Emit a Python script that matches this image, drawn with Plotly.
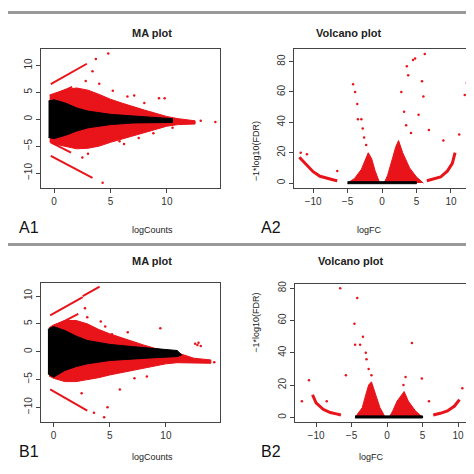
import plotly.graph_objects as go

# ---------- A1 MA plot ----------
a1_red_env_x = [-0.4,0,1,2,3,4,5,6,7,8,9,10,11,12.5,12.5,11,10,9,8,7,6,5,4,3,2,1,0,-0.4]
a1_red_env_y = [4.5,4.8,5.5,5.8,5.4,4.6,3.7,3.0,2.3,1.7,1.1,0.5,0.1,-0.3,-0.9,-1.0,-1.3,-1.9,-2.5,-3.0,-3.6,-4.3,-5.0,-5.4,-5.5,-5.0,-4.6,-4.2]
a1_blk_x = [-0.5,0,1,2,3,5,7,9,10.5,10.5,9,7,5,3,2,1,0,-0.5]
a1_blk_y = [3.4,3.6,3.0,2.1,1.5,0.9,0.6,0.3,0.1,-0.6,-0.6,-0.7,-1.0,-1.6,-2.2,-3.0,-3.6,-3.4]
a1_line_up_x = [-0.3,2.9]; a1_line_up_y = [6.5,10.3]
a1_line_lo_x = [-0.3,3.4]; a1_line_lo_y = [-6.8,-10.9]
a1_line_mid_x = [-0.3,1.6]; a1_line_mid_y = [4.2,6.0]
a1_line_mid2_x = [-0.3,1.5]; a1_line_mid2_y = [-4.3,-6.2]
a1_pts_x = [4.8,3.7,3.4,2.8,4.0,5.2,6.5,7.1,8.0,9.3,9.8,11.5,12.4,13,14.3,4.3,5.8,6.2,7.5,3.0,2.5,8.8,10.5]
a1_pts_y = [12.2,11.2,8.9,7.1,6.6,5.3,4.2,4.4,3.0,3.9,3.9,-0.4,-0.6,-0.3,-0.5,-11.8,-4.1,-4.6,-3.5,-6.4,-7.1,-2.6,-1.6]

# ---------- A2 Volcano ----------
a2_lw_x = [-5,-4,-3,-2.4,-2.0,-1.5,-1.0,-0.5,-0.3]
a2_lw_y = [0,3,9,16,20,16,8,2,0]
a2_rw_x = [0.3,0.8,1.5,2.0,2.4,3.0,4.0,5.0,6.0]
a2_rw_y = [0,5,16,24,28,20,10,4,0]
a2_blk_x = [-5,5,5,-5]; a2_blk_y = [-0.4,-0.4,0.9,0.9]
a2_arc_l_x = [-12,-11,-10,-9,-8,-7,-6.5]; a2_arc_l_y = [17,12,7.5,4.5,3,2,1.5]
a2_arc_r_x = [6.5,7.5,8.5,9.5,10.2,10.6]; a2_arc_r_y = [1.5,2.5,4,8,13,20]
a2_pts_x = [-11.8,-10.9,-4.2,-3.9,-3.6,-3.5,-3.0,-2.8,-2.6,-2.3,2.8,3.2,3.6,3.8,4.5,4.8,5.3,5.8,6.0,6.2,6.8,8.9,11.2,12.0,12.3,3.5,4.2,-6.5]
a2_pts_y = [20,19,65,60,52,42,42,36,30,25,60,47,77,71,81,82,45,67,57,85,35,28,32,58,66,38,33,8]

# ---------- B1 MA plot ----------
b1_red_env_x = [-0.4,0,1,2,3,4,5,6,7,8,9,10,11,12.5,14,14,12.5,11,10,9,8,7,6,5,4,3,2,1,0,-0.4]
b1_red_env_y = [4.3,4.8,5.6,5.6,5.0,4.0,3.2,2.5,1.8,1.2,0.6,0.2,-0.2,-1.2,-1.5,-2.1,-2.0,-2.0,-2.2,-2.6,-3.0,-3.3,-3.7,-4.2,-4.7,-5.0,-5.4,-5.4,-4.8,-4.4]
b1_blk_x = [-0.5,0,1,2,3,5,7,9,11,11.4,11,9,7,5,3,2,1,0,-0.5]
b1_blk_y = [4.0,4.5,3.8,2.8,2.0,1.3,0.9,0.5,0.2,-0.6,-0.9,-1.1,-1.3,-1.6,-2.2,-2.7,-3.4,-4.6,-4.0]
b1_line_up_x = [-0.3,2.6]; b1_line_up_y = [6.5,9.8]
b1_line_up2_x = [2.6,4.1]; b1_line_up2_y = [10.0,11.7]
b1_line_lo_x = [-0.3,3.0]; b1_line_lo_y = [-6.8,-10.6]
b1_line_mid_x = [0.5,2.2]; b1_line_mid_y = [5.0,6.8]
b1_pts_x = [2.8,3.0,4.2,4.6,5.2,6.6,9.5,4.5,3.6,5.9,4.8,2.5,12.6,12.9,12.8,13.1,14.3,11.2,7.2,8.3]
b1_pts_y = [7.8,6.2,5.4,4.5,3.1,3.5,4.2,-11.8,-11.0,-6.8,-10.0,-7.5,1.4,1.6,1.2,1.0,-1.9,-1.5,-4.8,-4.5]

# ---------- B2 Volcano ----------
b2_lw_x = [-4.5,-3.5,-3.0,-2.6,-2.2,-1.6,-1.0,-0.5,-0.3]
b2_lw_y = [0,6,14,20,22,14,6,2,0]
b2_rw_x = [0.3,0.8,1.4,2.0,2.4,3.0,4.0,5.0]
b2_rw_y = [0,4,10,14,16,10,4,0]
b2_blk_x = [-4.5,5,5,-4.5]; b2_blk_y = [-0.4,-0.4,0.9,0.9]
b2_arc_l_x = [-10.5,-10,-9,-8,-7,-6.5]; b2_arc_l_y = [14,9,5,3,2,1.5]
b2_arc_r_x = [6.5,7.5,8.5,9.5,10.2]; b2_arc_r_y = [1.5,2.5,4,7,11]
b2_pts_x = [-12,-11,-6.6,-4.2,-4.6,-4.5,-3.8,-3.4,-3.0,-2.9,-2.6,-2.2,-5.8,3.5,2.6,2.3,4.9,5.9,10.6,11.5,11.3,-8.5]
b2_pts_y = [10,23,80,74,58,45,45,50,40,36,30,26,26,46,25,20,24,10,18,34,28,10]

RED = "#e8141a"
BLK = "#000000"

fig = go.Figure()
panels = [("x","y"),("x2","y2"),("x3","y3"),("x4","y4")]

def poly(ax, xs, ys, col):
    fig.add_trace(go.Scatter(x=xs, y=ys, fill="toself", fillcolor=col, mode="lines",
                             line=dict(color=col, width=1), xaxis=ax[0], yaxis=ax[1],
                             hoverinfo="skip", showlegend=False))

def line(ax, xs, ys, col, w=2.5):
    fig.add_trace(go.Scatter(x=xs, y=ys, mode="lines", line=dict(color=col, width=w),
                             xaxis=ax[0], yaxis=ax[1], showlegend=False))

def pts(ax, xs, ys, col, s=2.5):
    fig.add_trace(go.Scatter(x=xs, y=ys, mode="markers", marker=dict(color=col, size=s),
                             xaxis=ax[0], yaxis=ax[1], showlegend=False))

ax = panels[0]
poly(ax, a1_red_env_x, a1_red_env_y, RED)
poly(ax, a1_blk_x, a1_blk_y, BLK)
for lx, ly in [(a1_line_up_x,a1_line_up_y),(a1_line_lo_x,a1_line_lo_y),(a1_line_mid_x,a1_line_mid_y),(a1_line_mid2_x,a1_line_mid2_y)]:
    line(ax, lx, ly, RED, 2)
pts(ax, a1_pts_x, a1_pts_y, RED)
ax = panels[1]
poly(ax, a2_lw_x, a2_lw_y, RED); poly(ax, a2_rw_x, a2_rw_y, RED)
line(ax, a2_arc_l_x, a2_arc_l_y, RED, 3); line(ax, a2_arc_r_x, a2_arc_r_y, RED, 3)
poly(ax, a2_blk_x, a2_blk_y, BLK)
pts(ax, a2_pts_x, a2_pts_y, RED)
ax = panels[2]
poly(ax, b1_red_env_x, b1_red_env_y, RED)
poly(ax, b1_blk_x, b1_blk_y, BLK)
for lx, ly in [(b1_line_up_x,b1_line_up_y),(b1_line_up2_x,b1_line_up2_y),(b1_line_lo_x,b1_line_lo_y),(b1_line_mid_x,b1_line_mid_y)]:
    line(ax, lx, ly, RED, 2)
pts(ax, b1_pts_x, b1_pts_y, RED)
ax = panels[3]
poly(ax, b2_lw_x, b2_lw_y, RED); poly(ax, b2_rw_x, b2_rw_y, RED)
line(ax, b2_arc_l_x, b2_arc_l_y, RED, 3); line(ax, b2_arc_r_x, b2_arc_r_y, RED, 3)
poly(ax, b2_blk_x, b2_blk_y, BLK)
pts(ax, b2_pts_x, b2_pts_y, RED)

FONT = "Liberation Sans"
tick = dict(showline=True, mirror=True, linecolor="#444", linewidth=1, ticks="outside",
            ticklen=4, tickcolor="#444", showgrid=False, zeroline=False,
            tickfont=dict(size=10, color="#333", family=FONT))

xd = [(0.070,0.447),(0.603,0.981),(0.070,0.447),(0.605,0.981)]
yd = [(0.624,0.920),(0.624,0.920),(0.127,0.422),(0.127,0.420)]
xr = [(-1.15,14.7),(-12.8,13.2),(-1.1,14.8),(-13,12.1)]
yr = [(-12.8,13.1),(-3.3,88.5),(-12.7,12.3),(-3,82.5)]
xt = [[0,5,10],[-10,-5,0,5,10],[0,5,10],[-10,-5,0,5,10]]
yt = [[-10,-5,0,5,10],[0,20,40,60,80],[-10,-5,0,5,10],[0,20,40,60,80]]
lay = {}
names = ["", "2", "3", "4"]
for i, n in enumerate(names):
    lay["xaxis"+n] = dict(domain=xd[i], range=xr[i], tickvals=xt[i], anchor="y"+n, **tick)
    lay["yaxis"+n] = dict(domain=yd[i], range=yr[i], tickvals=yt[i], anchor="x"+n, tickangle=-90, **tick)

ann = []
def txt(x, y, s, size, bold=False, rot=0, col="#222"):
    ann.append(dict(x=x, y=y, xref="paper", yref="paper", text=("<b>%s</b>" % s) if bold else s,
                    showarrow=False, font=dict(size=size, family=FONT, color=col), textangle=rot))
txt(0.258, 0.970, "MA plot", 11, True)
txt(0.793, 0.970, "Volcano plot", 11, True)
txt(0.258, 0.470, "MA plot", 11, True)
txt(0.798, 0.470, "Volcano plot", 11, True)
txt(0.258, 0.535, "logCounts", 9)
txt(0.793, 0.535, "logFC", 9)
txt(0.258, 0.038, "logCounts", 9)
txt(0.798, 0.038, "logFC", 9)
txt(0.523, 0.770, "−1*log10(FDR)", 9, rot=-90)
txt(0.523, 0.270, "−1*log10(FDR)", 9, rot=-90)
txt(0.018, 0.540, "A1", 16, col="#111")
txt(0.555, 0.540, "A2", 16, col="#111")
txt(0.018, 0.042, "B1", 16, col="#111")
txt(0.555, 0.042, "B2", 16, col="#111")

shapes = [dict(type="line", xref="paper", yref="paper", x0=0, x1=1, y0=y, y1=y,
               line=dict(color="#999", width=3)) for y in (0.997, 0.504, 0.006)]

fig.update_layout(width=474, height=474, margin=dict(l=0, r=0, t=0, b=0),
                  paper_bgcolor="white", plot_bgcolor="white", annotations=ann, shapes=shapes,
                  showlegend=False, **lay)
fig.write_html("out.html")
